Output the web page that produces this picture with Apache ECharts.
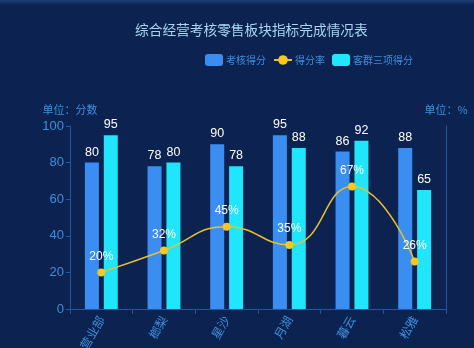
<!DOCTYPE html>
<html>
<head>
<meta charset="utf-8">
<script src="https://cdn.jsdelivr.net/npm/echarts@6/dist/echarts.min.js"></script>
<style>html,body{margin:0;padding:0;background:#0c2250;}#c{width:474px;height:348px;}</style>
</head>
<body>
<div id="c"></div>
<script>
var categories = ['营业部', '榔梨', '星沙', '月湖', '暮云', '松雅'];
var scoreValues = [80, 78, 90, 95, 86, 88];
var rateValues = [20, 32, 45, 35, 67, 26];
var customerValues = [95, 80, 78, 88, 92, 65];
var leftTicks = [0, 20, 40, 60, 80, 100];

var chart = echarts.init(document.getElementById('c'));
var labelBlue = '#3d8fdc';
chart.setOption({
  backgroundColor: '#0c2250',
  animation: false,
  graphic: [{
    type: 'rect', left: 0, top: 0, z: -1,
    shape: { width: 474, height: 5 },
    style: { fill: new echarts.graphic.LinearGradient(0, 0, 0, 1, [
      { offset: 0, color: '#1b3f74' }, { offset: 1, color: '#0c2250' }]) }
  }],
  title: {
    text: '综合经营考核零售板块指标完成情况表',
    left: 130,
    top: 18,
    textStyle: { color: '#a9d6f2', fontSize: 13.7, fontWeight: 'normal', fontFamily: 'Noto Sans CJK SC' }
  },
  legend: {
    right: 56,
    top: 49,
    itemWidth: 18,
    itemHeight: 12,
    itemGap: 7,
    textStyle: { color: '#3d8fdc', fontSize: 10, padding: [0, 0, 0, -2], fontFamily: 'Noto Sans CJK SC' },
    data: ['考核得分', '得分率', '客群三项得分']
  },
  grid: { left: 70, right: 28, top: 126, bottom: 39, containLabel: false, outerBoundsMode: 'none' },
  xAxis: {
    type: 'category',
    data: categories,
    axisLine: { lineStyle: { color: '#1d5a9c' } },
    axisTick: { show: true, lineStyle: { color: '#1d5a9c' } },
    axisLabel: { color: labelBlue, rotate: 60, fontSize: 12, margin: 8, fontFamily: 'Noto Sans CJK SC' }
  },
  yAxis: [
    {
      type: 'value', min: 0, max: 100, interval: 20,
      name: '单位：分数', nameLocation: 'end', nameGap: 11,
      nameTextStyle: { color: labelBlue, fontSize: 11, align: 'center', fontFamily: 'Noto Sans CJK SC' },
      axisLine: { show: true, lineStyle: { color: '#1d5a9c' } },
      axisTick: { show: true, length: 4, lineStyle: { color: '#1d5a9c' } },
      axisLabel: { color: labelBlue, fontSize: 13, margin: 6 },
      splitLine: { show: false }
    },
    {
      type: 'value', min: 0, max: 100, interval: 20,
      name: '单位：%', nameLocation: 'end', nameGap: 11,
      nameTextStyle: { color: labelBlue, fontSize: 11, align: 'center', fontFamily: 'Noto Sans CJK SC' },
      axisLine: { show: true, lineStyle: { color: '#1d5a9c' } },
      axisTick: { show: false },
      axisLabel: { show: false },
      splitLine: { show: false }
    }
  ],
  series: [
    {
      name: '考核得分', type: 'bar', data: scoreValues, barWidth: 14, barGap: '35%',
      itemStyle: { color: '#3a8ef2' },
      label: { show: true, position: 'top', color: '#ffffff', fontSize: 12.5, distance: 4 }
    },
    {
      name: '得分率', type: 'line', yAxisIndex: 1, data: rateValues, smooth: true,
      symbol: 'circle', symbolSize: 8, z: 5,
      lineStyle: { color: '#e8c02c', width: 1.5 },
      itemStyle: { color: '#f7c81e' },
      label: { show: true, position: 'top', color: '#ffffff', fontSize: 12, distance: 6, formatter: '{c}%' }
    },
    {
      name: '客群三项得分', type: 'bar', data: customerValues, barWidth: 14,
      itemStyle: { color: '#1fe6fb' },
      label: { show: true, position: 'top', color: '#ffffff', fontSize: 12.5, distance: 4 }
    }
  ]
});
</script>
</body>
</html>
